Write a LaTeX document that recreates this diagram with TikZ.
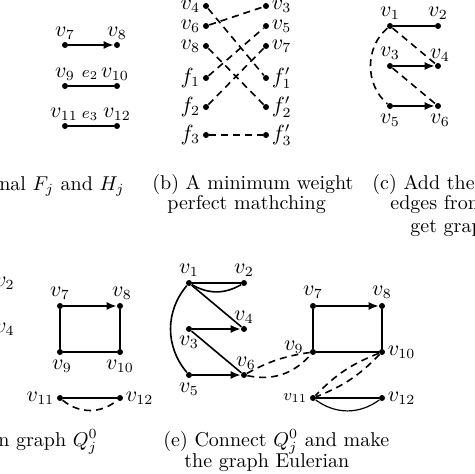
\documentclass[tikz,border=0pt]{standalone}
\usetikzlibrary{arrows.meta}
\begin{document}
\begin{tikzpicture}[x=0.5pt,y=-0.5pt,
  vtx/.style={circle,fill=black,inner sep=0pt,minimum size=3pt},
  edge/.style={line width=0.8pt},
  arr/.style={line width=0.8pt,-{Latex[length=5pt,width=4pt]}},
  dsh/.style={line width=0.8pt,dash pattern=on 3.5pt off 2.5pt},
  lab/.style={inner sep=1pt,font=\fontsize{10.5}{12}\selectfont},
  captxt/.style={inner sep=0pt,font=\fontsize{10}{12}\selectfont,anchor=base west}]
\useasboundingbox (0,0) rectangle (474,474);
\clip (0,0) rectangle (474,474);

% ---------- (a) ----------
\node[vtx] (a7) at (65,45) {};
\node[vtx] (a8) at (117,45) {};
\node[vtx] (a9) at (65,86) {};
\node[vtx] (a10) at (117,86) {};
\node[vtx] (a11) at (65,126) {};
\node[vtx] (a12) at (117,126) {};
\node[lab] (la7) at (65,33) {$v_7$};
\node[lab] (la8) at (117,33) {$v_8$};
\node[lab] (la9) at (65,74) {$v_9$};
\node[lab] (la10) at (115,74) {$v_{10}$};
\node[lab] (la11) at (64,114) {$v_{11}$};
\node[lab] (la12) at (117,114) {$v_{12}$};
\node[lab,font=\footnotesize] (le2) at (90,75) {$e_2$};
\node[lab,font=\footnotesize] (le3) at (90,116) {$e_3$};
\draw[arr] (a7) -- (a8);
\draw[edge] (a9) -- (a10);
\draw[edge] (a11) -- (a12);
\node[captxt,anchor=base east] (capa) at (125,191) {nal $F_j$ and $H_j$};

% ---------- (b) ----------
\node[vtx] (b4) at (206,6) {};
\node[vtx] (b6) at (206,26) {};
\node[vtx] (b8) at (206,46) {};
\node[vtx] (bf1) at (206,78) {};
\node[vtx] (bf2) at (206,107) {};
\node[vtx] (bf3) at (206,135) {};
\node[vtx] (b3) at (266,6) {};
\node[vtx] (b5) at (266,26) {};
\node[vtx] (b7) at (266,46) {};
\node[vtx] (bg1) at (266,78) {};
\node[vtx] (bg2) at (266,107) {};
\node[vtx] (bg3) at (266,135) {};
\node[lab,anchor=east] at (b4.west) {$v_4$};
\node[lab,anchor=east] at (b6.west) {$v_6$};
\node[lab,anchor=east] at (b8.west) {$v_8$};
\node[lab,anchor=east] at (bf1.west) {$f_1$};
\node[lab,anchor=east] at (bf2.west) {$f_2$};
\node[lab,anchor=east] at (bf3.west) {$f_3$};
\node[lab,anchor=west] at (b3.east) {$v_3$};
\node[lab,anchor=west] at (b5.east) {$v_5$};
\node[lab,anchor=west] at (b7.east) {$v_7$};
\node[lab,anchor=west] at (bg1.east) {$f_1'$};
\node[lab,anchor=west] at (bg2.east) {$f_2'$};
\node[lab,anchor=west] at (bg3.east) {$f_3'$};
\draw[dsh] (b4) -- (bg1);
\draw[dsh] (b6) -- (b3);
\draw[dsh] (b8) -- (bg2);
\draw[dsh] (bf1) -- (b5);
\draw[dsh] (bf2) -- (b7);
\draw[dsh] (bf3) -- (bg3);
\node[captxt] (capb1) at (152,190) {(b) A minimum weight};
\node[captxt] (capb2) at (167,210) {perfect mathching};

% ---------- (c) ----------
\node[vtx] (c1) at (390,26) {};
\node[vtx] (c2) at (438,26) {};
\node[vtx] (c3) at (390,66) {};
\node[vtx] (c4) at (438,66) {};
\node[vtx] (c5) at (390,106) {};
\node[vtx] (c6) at (438,106) {};
\node[lab] at (390,13) {$v_1$};
\node[lab] at (438,13) {$v_2$};
\node[lab] at (390,53) {$v_3$};
\node[lab] at (440,55) {$v_4$};
\node[lab] at (390,120) {$v_5$};
\node[lab] at (440,120) {$v_6$};
\draw[edge] (c1) -- (c2);
\draw[arr] (c3) -- (c4);
\draw[arr] (c5) -- (c6);
\draw[dsh] (c1) -- (c4);
\draw[dsh] (c3) -- (c6);
\draw[dsh] (c1) to[bend right=50] (c5);
\node[captxt] (capc1) at (372,190) {(c) Add the};
\node[captxt] (capc2) at (390,210) {edges from};
\node[captxt] (capc3) at (410,233) {get graph};

% ---------- (d) ----------
\node[lab,anchor=east] (dv2) at (17,283) {$v_2$};
\node[lab,anchor=east] (dv4) at (17,329) {$v_4$};
\node[vtx] (d7) at (60,306) {};
\node[vtx] (d8) at (120,306) {};
\node[vtx] (d9) at (60,352) {};
\node[vtx] (d10) at (120,352) {};
\node[vtx] (d11) at (60,398) {};
\node[vtx] (d12) at (120,398) {};
\node[lab] at (60,293) {$v_7$};
\node[lab] at (122,293) {$v_8$};
\node[lab] at (62,366) {$v_9$};
\node[lab] at (120,366) {$v_{10}$};
\node[lab,anchor=east] at (d11.west) {$v_{11}$};
\node[lab,anchor=west] at (d12.east) {$v_{12}$};
\draw[arr] (d7) -- (d8);
\draw[edge] (d7) -- (d9);
\draw[edge] (d9) -- (d10);
\draw[edge] (d8) -- (d10);
\draw[edge] (d11) -- (d12);
\draw[dsh] (d11) to[bend right=40] (d12);
\node[captxt,anchor=base east] (capd) at (98,446) {n graph $Q_j^0$};

% ---------- (e) ----------
\node[vtx] (e1) at (189,283) {};
\node[vtx] (e2) at (244,283) {};
\node[vtx] (e3) at (189,329) {};
\node[vtx] (e4) at (244,329) {};
\node[vtx] (e5) at (189,375) {};
\node[vtx] (e6) at (244,375) {};
\node[lab] at (189,270) {$v_1$};
\node[lab] at (244,270) {$v_2$};
\node[lab] at (189,342) {$v_3$};
\node[lab] at (244,317) {$v_4$};
\node[lab] at (189,389) {$v_5$};
\node[lab] at (246,363) {$v_6$};
\draw[edge] (e1) -- (e2);
\draw[edge] (e1) to[bend right=30] (e2);
\draw[edge] (e1) -- (e4);
\draw[edge] (e1) to[bend right=40] (e5);
\draw[arr] (e3) -- (e4);
\draw[edge] (e3) -- (e6);
\draw[arr] (e5) -- (e6);

\node[vtx] (e7) at (313,306) {};
\node[vtx] (e8) at (382,306) {};
\node[vtx] (e9) at (313,352) {};
\node[vtx] (e10) at (382,352) {};
\node[vtx] (e11) at (313,398) {};
\node[vtx] (e12) at (382,398) {};
\node[lab] at (313,292) {$v_7$};
\node[lab] at (382,292) {$v_8$};
\node[lab,anchor=east] at (306,347) {$v_9$};
\node[lab,anchor=west] at (e10.east) {$v_{10}$};
\node[lab,anchor=east,font=\footnotesize] at (e11.west) {$v_{11}$};
\node[lab,anchor=west] at (e12.east) {$v_{12}$};
\draw[arr] (e7) -- (e8);
\draw[edge] (e7) -- (e9);
\draw[edge] (e9) -- (e10);
\draw[edge] (e8) -- (e10);
\draw[edge] (e11) -- (e12);
\draw[edge,line width=0.6pt] (e11) to[bend right=36] (e12);
\draw[dsh] (e6) to[bend left=10] (e9);
\draw[dsh] (e6) to[bend right=30] (e9);
\draw[dsh] (e10) to[bend right=12] (e11);
\draw[dsh] (e10) to[bend left=12] (e11);
\node[captxt] (cape1) at (163,446) {(e) Connect $Q_j^0$ and make};
\node[captxt] (cape2) at (184,467) {the graph Eulerian};
\end{tikzpicture}
\end{document}
